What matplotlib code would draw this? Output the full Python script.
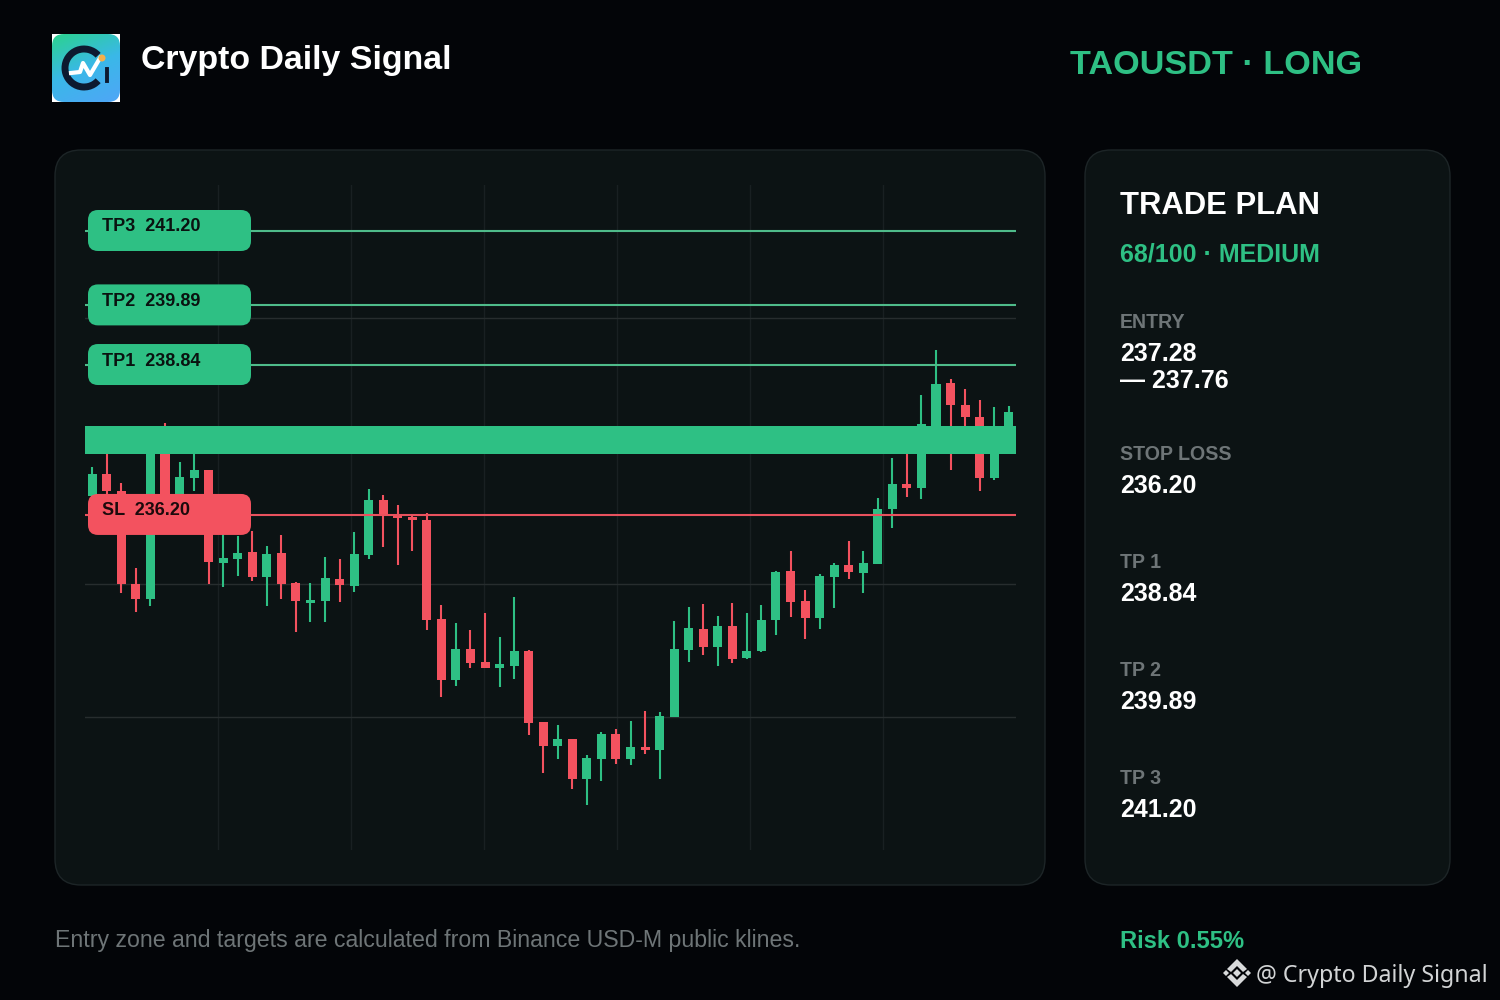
import matplotlib
matplotlib.use("Agg")
import matplotlib.pyplot as plt
from matplotlib.patches import FancyBboxPatch, Rectangle, Arc, Polygon, Circle
import numpy as np

# candles
opens = [236.53, 236.92, 236.62, 234.99, 234.72, 237.66, 236.46, 236.85, 236.99, 235.36, 235.43, 235.55, 235.11, 235.53, 235.00, 234.65,
         234.69, 235.07, 234.95, 235.50, 236.46, 236.20, 236.16, 236.11, 234.37, 233.30, 233.84, 233.61, 233.51, 233.54, 233.81, 232.56,
         232.13, 232.26, 231.55, 231.90, 232.34, 231.90, 232.12, 232.06, 232.64, 233.82, 234.19, 233.88, 234.25, 233.68, 233.81, 234.35,
         235.21, 234.69, 234.39, 235.11, 235.32, 235.18, 235.34, 236.31, 236.73, 236.68, 237.70, 238.52, 238.14, 237.93, 236.85, 237.61]
highs = [237.05, 237.52, 236.76, 235.27, 237.70, 237.82, 237.13, 237.43, 236.99, 236.11, 235.83, 235.92, 235.65, 235.85, 235.02, 235.00,
         235.46, 235.43, 235.90, 236.66, 236.55, 236.38, 236.20, 236.24, 234.62, 234.30, 234.18, 234.47, 234.05, 234.76, 233.82, 232.56,
         232.50, 232.26, 231.97, 232.38, 232.43, 232.57, 232.75, 232.73, 234.33, 234.58, 234.63, 234.42, 234.65, 234.47, 234.62, 235.21,
         235.57, 234.88, 235.16, 235.36, 235.74, 235.57, 236.50, 237.20, 237.52, 238.31, 239.10, 238.59, 238.42, 238.22, 238.10, 238.12]
lows = [236.46, 236.55, 234.83, 234.49, 234.60, 236.38, 236.38, 236.62, 234.99, 234.93, 235.13, 235.04, 234.60, 234.72, 234.14, 234.32,
        234.32, 234.67, 234.84, 235.43, 235.64, 235.32, 235.57, 234.18, 233.00, 233.19, 233.51, 233.51, 233.17, 233.31, 232.33, 231.66,
        231.90, 231.38, 231.09, 231.52, 231.82, 231.80, 231.99, 231.55, 232.64, 233.61, 233.74, 233.54, 233.59, 233.67, 233.79, 234.09,
        234.40, 234.02, 234.19, 234.56, 235.07, 234.83, 235.34, 235.97, 236.52, 236.48, 237.61, 236.99, 237.66, 236.62, 236.82, 237.52]
closes = [236.92, 236.62, 234.99, 234.72, 237.66, 236.46, 236.87, 236.99, 235.37, 235.44, 235.53, 235.11, 235.51, 234.99, 234.69, 234.70,
          235.09, 234.97, 235.51, 236.46, 236.20, 236.15, 236.11, 234.35, 233.30, 233.84, 233.59, 233.51, 233.54, 233.81, 232.54, 232.13,
          232.26, 231.55, 231.92, 232.34, 231.90, 232.12, 232.06, 232.66, 233.84, 234.21, 233.88, 234.25, 233.67, 233.81, 234.35, 235.20,
          234.67, 234.39, 235.13, 235.32, 235.20, 235.36, 236.31, 236.75, 236.68, 237.80, 238.51, 238.14, 237.93, 236.85, 237.61, 238.01]

tp_names = ["TP3", "TP2", "TP1"]
tp_prices = [241.20, 239.89, 238.84]
sl_price = 236.20
entry_low = 237.28
entry_high = 237.76

plan_labels = ["STOP LOSS", "TP 1", "TP 2", "TP 3"]
plan_values = ["236.20", "238.84", "239.89", "241.20"]

BG = "#030508"
PANEL = "#0c1314"
EDGE = "#1d2527"
GREEN = "#2ec084"
LINE_GREEN = "#4fbb8a"
RED = "#f3525f"
GREY = "#6e7577"
YMIN, YMAX = 230.30, 242.01

plt.rcParams["font.family"] = ["Liberation Sans", "DejaVu Sans"]

fig = plt.figure(figsize=(15, 10), dpi=100, facecolor=BG)


def full_axes(z):
    a = fig.add_axes([0, 0, 1, 1], zorder=z)
    a.set_xlim(0, 1500)
    a.set_ylim(1000, 0)
    a.axis("off")
    return a


def rounded(a, x0, y0, x1, y1, r, **kw):
    p = FancyBboxPatch((x0 + r, y0 + r), x1 - x0 - 2 * r, y1 - y0 - 2 * r,
                       boxstyle="round,pad=%d,rounding_size=%d" % (r, r), **kw)
    a.add_patch(p)
    return p


def px(size):
    # font size given in pixels
    return size * 0.72


bg = full_axes(0)
rounded(bg, 55, 150, 1045, 885, 26, fc=PANEL, ec=EDGE, lw=1)
rounded(bg, 1085, 150, 1450, 885, 26, fc=PANEL, ec=EDGE, lw=1)

# logo
bg.add_patch(Rectangle((52, 34), 68, 68, fc="white", ec="none"))
clip = rounded(bg, 52, 34, 120, 102, 12, fc="none", ec="none")
grad = np.linspace(0, 1, 64)[:, None] * 0.7 + np.linspace(0, 1, 64)[None, :] * 0.3
img = bg.imshow(grad, extent=(52, 120, 102, 34), aspect="auto", zorder=2,
                cmap=matplotlib.colors.LinearSegmentedColormap.from_list("logo", ["#2bd38e", "#3ab8e8", "#4fa6f7"]))
img.set_clip_path(clip)
bg.set_xlim(0, 1500)
bg.set_ylim(1000, 0)
bg.add_patch(Arc((84, 68), 38, 38, theta1=42, theta2=318, color="#0d1a30", lw=5, zorder=3))
bg.plot([71, 80, 83, 90, 100], [73, 72, 63, 75, 58], color="white", lw=3, zorder=4)
bg.add_patch(Circle((102, 58), 3.5, fc="#f5b04c", ec="none", zorder=5))
bg.plot([107, 107], [69, 81], color="#0d1a30", lw=2.8, zorder=4)

bg.text(141, 60, "Crypto Daily Signal", color="white", fontsize=px(33.9), fontweight="bold", va="center")
bg.text(1070, 66, "TAOUSDT · LONG", color=GREEN, fontsize=px(34.3), fontweight="bold", va="center")

# right panel
bg.text(1120, 206, "TRADE PLAN", color="white", fontsize=px(31), fontweight="bold", va="center")
bg.text(1120, 254, "68/100 · MEDIUM", color=GREEN, fontsize=px(25), fontweight="bold", va="center")
bg.text(1120, 323, "ENTRY", color=GREY, fontsize=px(19.6), fontweight="bold", va="center")
bg.text(1120, 354, "237.28", color="white", fontsize=px(25), fontweight="bold", va="center")
bg.text(1120, 381, "— 237.76", color="white", fontsize=px(25), fontweight="bold", va="center")
for name, val, y1, y2 in zip(plan_labels, plan_values, [454, 563, 671, 779], [486, 594, 702, 810]):
    bg.text(1120, y1, name, color=GREY, fontsize=px(19.6), fontweight="bold", va="center")
    bg.text(1120, y2, val, color="white", fontsize=px(25), fontweight="bold", va="center")

# footer
bg.text(55, 940, "Entry zone and targets are calculated from Binance USD-M public klines.", color=GREY, fontsize=px(23.1), va="center")
bg.text(1120, 941, "Risk 0.55%", color=GREEN, fontsize=px(23.8), fontweight="bold", va="center")
bg.text(1256, 976, "@ Crypto Daily Signal", color="#d2d4d5", fontsize=px(23.2), family="Noto Sans", va="center")

# binance mark
mark = "#d8dadb"
for cx, cy in [(1237, 973), (1226, 973), (1248, 973)]:
    r = 4 if cx == 1237 else 3
    bg.add_patch(Polygon([(cx - r, cy), (cx, cy - r), (cx + r, cy), (cx, cy + r)], fc=mark, ec="none"))
bg.add_patch(Polygon([(1227, 969), (1237, 959), (1247, 969), (1243, 972), (1237, 966), (1231, 972)], fc=mark, ec="none"))
bg.add_patch(Polygon([(1227, 977), (1237, 987), (1247, 977), (1243, 974), (1237, 980), (1231, 974)], fc=mark, ec="none"))

# chart
ax = fig.add_axes([85 / 1500, 1 - 850 / 1000, 931 / 1500, 665 / 1000], zorder=1)
ax.patch.set_visible(False)
for s in ax.spines.values():
    s.set_visible(False)
ax.set_xlim(-0.5, len(opens) - 0.5)
ax.set_ylim(YMIN, YMAX)
ax.tick_params(length=0, labelbottom=False, labelleft=False)

ax.set_xticks(np.linspace(-0.5, len(opens) - 0.5, 8)[1:-1])
ax.set_yticks(np.linspace(YMIN, YMAX, 6)[1:-1])
ax.grid(axis="x", color="#192022", lw=1)
ax.grid(axis="y", color="#272d2e", lw=1)
ax.set_axisbelow(True)

x = np.arange(len(opens))
colors = [GREEN if c >= o else RED for o, c in zip(opens, closes)]
ax.vlines(x, lows, highs, colors=colors, lw=1.5, zorder=2)
bottoms = [min(o, c) for o, c in zip(opens, closes)]
heights = [max(abs(c - o), 0.06) for o, c in zip(opens, closes)]
ax.bar(x, heights, bottom=bottoms, width=0.62, color=colors, zorder=3)

for p in tp_prices:
    ax.axhline(p, color=LINE_GREEN, lw=1.5, zorder=4)
ax.axhline(sl_price, color="#e9525e", lw=1.5, zorder=4)
ax.axhspan(entry_low, entry_high, color=GREEN, lw=0, zorder=5)

# pills on top of the candles
top = full_axes(2)
top.patch.set_visible(False)


def price_y(p):
    return 185 + (YMAX - p) / (YMAX - YMIN) * 665


for name, p in zip(tp_names, tp_prices):
    y = price_y(p)
    rounded(top, 88, y - 21, 251, y + 20, 10, fc=GREEN, ec="none")
    top.text(102, y - 4, "%s  %.2f" % (name, p), color="#0a1210", fontsize=px(18), fontweight="bold", va="center")
y = price_y(sl_price)
rounded(top, 88, y - 21, 251, y + 20, 10, fc=RED, ec="none")
top.text(102, y - 4, "SL  %.2f" % sl_price, color="#1c0a0c", fontsize=px(18), fontweight="bold", va="center")

fig.savefig("out.png", dpi=100, facecolor=BG)
